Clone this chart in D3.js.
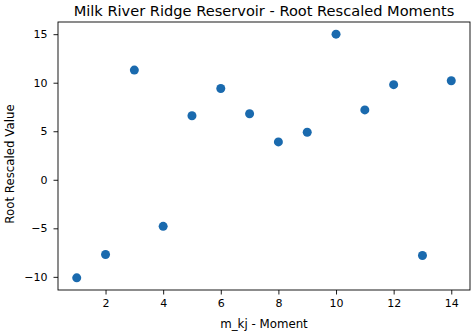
<!DOCTYPE html>
<html>
<head>
<meta charset="utf-8">
<script src="https://cdn.jsdelivr.net/npm/d3@7"></script>
<style>
  html, body { margin: 0; padding: 0; background: #fff; }
  svg { display: block; font-family: "DejaVu Sans", sans-serif; }
</style>
</head>
<body>
<svg id="chart" width="474" height="335"></svg>
<script>
// Moment index m_kj and its root rescaled value
const moments = [1, 2, 3, 4, 5, 6, 7, 8, 9, 10, 11, 12, 13, 14];
const values = [-10.1, -7.7, 11.3, -4.8, 6.6, 9.4, 6.8, 3.9, 4.9, 15.0, 7.2, 9.8, -7.8, 10.2];
const xTicks = [2, 4, 6, 8, 10, 12, 14];
const yTicks = [-10, -5, 0, 5, 10, 15];

const title = "Milk River Ridge Reservoir - Root Rescaled Moments";
const xLabel = "m_kj - Moment";
const yLabel = "Root Rescaled Value";

const svg = d3.select("#chart");
const margin = { left: 58, right: 4, top: 22, bottom: 45 };
const W = 474, H = 335;
const plotW = W - margin.left - margin.right;
const plotH = H - margin.top - margin.bottom;

// Padded domains (5% each side)
const xmin = d3.min(moments), xmax = d3.max(moments);
const xpad = (xmax - xmin) * 0.05;
const ymin = d3.min(values), ymax = d3.max(values);
const ypad = (ymax - ymin) * 0.05;

const x = d3.scaleLinear().domain([xmin - xpad, xmax + xpad]).range([0, plotW]);
const y = d3.scaleLinear().domain([ymin - ypad, ymax + ypad]).range([plotH, 0]);

const g = svg.append("g").attr("transform", `translate(${margin.left},${margin.top})`);

const fmt = d => d < 0 ? "\u2212" + Math.abs(d) : String(d);

const xAxis = g.append("g")
  .attr("transform", `translate(0,${plotH})`)
  .call(d3.axisBottom(x).tickValues(xTicks).tickSize(4.5).tickPadding(4.5).tickFormat(fmt));
const yAxis = g.append("g")
  .call(d3.axisLeft(y).tickValues(yTicks).tickSize(4.5).tickPadding(6).tickFormat(fmt));

[xAxis, yAxis].forEach(a => {
  a.select(".domain").remove();
  a.selectAll("text").attr("font-size", 11).attr("fill", "#000")
    .attr("font-family", "DejaVu Sans, sans-serif");
  a.selectAll("line").attr("stroke", "#000").attr("stroke-width", 0.9);
});

// Frame
g.append("rect")
  .attr("x", 0).attr("y", 0).attr("width", plotW).attr("height", plotH)
  .attr("fill", "none").attr("stroke", "#000").attr("stroke-width", 0.9);

// Points
g.selectAll("circle.pt")
  .data(moments.map((m, i) => ({ m, v: values[i] })))
  .join("circle")
  .attr("class", "pt")
  .attr("cx", d => x(d.m))
  .attr("cy", d => y(d.v))
  .attr("r", 4.5)
  .attr("fill", "#1a6aae");

// Title and axis labels
svg.append("text")
  .attr("x", margin.left + plotW / 2).attr("y", 16)
  .attr("text-anchor", "middle").attr("font-size", 14.6).attr("fill", "#000")
  .text(title);

svg.append("text")
  .attr("x", margin.left + plotW / 2).attr("y", 328)
  .attr("text-anchor", "middle").attr("font-size", 11.8).attr("fill", "#000")
  .text(xLabel);

svg.append("text")
  .attr("transform", `translate(14,164) rotate(-90)`)
  .attr("text-anchor", "middle").attr("font-size", 11.8).attr("fill", "#000")
  .text(yLabel);
</script>
</body>
</html>
